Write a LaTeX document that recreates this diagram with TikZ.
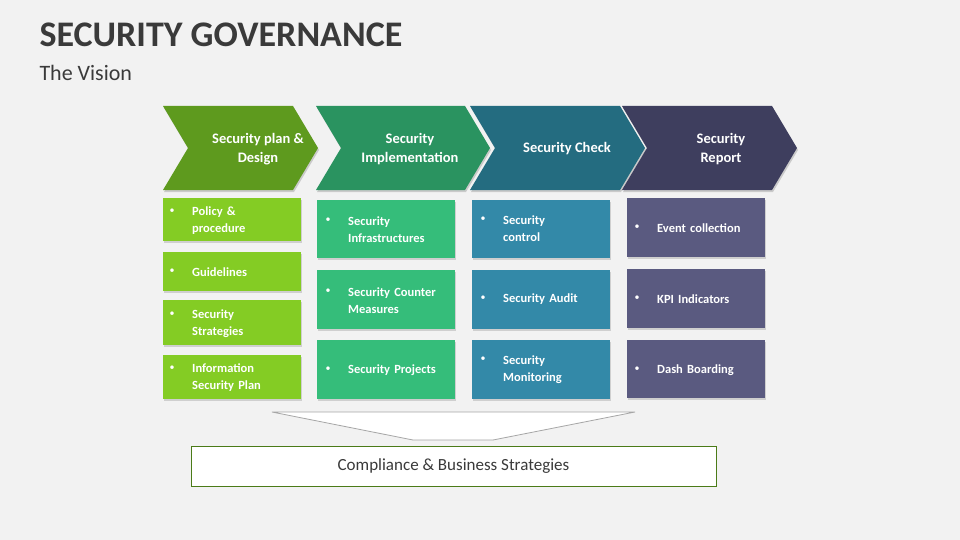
\documentclass[tikz,border=0pt]{standalone}
\usepackage{fontspec}
\setmainfont{Carlito}
\usetikzlibrary{shadows}
\definecolor{bg}{HTML}{F2F2F2}
\definecolor{cA}{HTML}{5E9A1E}
\definecolor{cB}{HTML}{2A9360}
\definecolor{cC}{HTML}{246C80}
\definecolor{cD}{HTML}{3E3E5E}
\definecolor{bA}{HTML}{84CC24}
\definecolor{bB}{HTML}{35BD7A}
\definecolor{bC}{HTML}{3389A8}
\definecolor{bD}{HTML}{5A5A80}
\definecolor{tit}{HTML}{3A3A3A}
\begin{document}
\begin{tikzpicture}[x=1pt,y=-1pt,
  chev/.style={drop shadow={opacity=0.35,shadow xshift=1pt,shadow yshift=-2pt}},
  cbox/.style={draw=none,drop shadow={opacity=0.3,shadow xshift=1pt,shadow yshift=-2pt}},
  btxt/.style={text=white,font=\bfseries\fontsize{12.5}{17}\selectfont,align=left,anchor=west,text width=110pt,inner sep=0pt},
  dot/.style={text=white,font=\fontsize{10}{10}\selectfont,anchor=center,inner sep=0pt},
  ctxt/.style={text=white,font=\bfseries\fontsize{14.5}{19}\selectfont,align=center}]
\fill[bg] (0,0) rectangle (960,540);
\useasboundingbox (0,0) rectangle (960,540);
\node[anchor=west,text=tit,font=\bfseries\fontsize{36}{40}\selectfont] (title) at (36,35) {SECURITY GOVERNANCE};
\node[anchor=west,text=tit,font=\fontsize{22}{26}\selectfont] (sub) at (36,73) {The Vision};
% chevrons
\foreach \x/\w/\c in {163/155/cA,316/174/cB,470/175/cC,622/175/cD}{
  \fill[\c,chev] (\x,106) -- (\x+\w-25,106) -- (\x+\w,148) -- (\x+\w-25,190) -- (\x,190) -- (\x+25,148) -- cycle;
}
\node[ctxt] (h1) at (258,149) {Security plan \&\\Design};
\node[ctxt] (h2) at (410,149) {Security\\Implementation};
\node[ctxt] (h3) at (567,149) {Security Check};
\node[ctxt] (h4) at (721,149) {Security\\Report};
% column 1
\foreach \n/\ya/\yb/\o/\t in {a1/198/241/8.5/{Policy \&\\procedure},a2/252/291/0/{Guidelines},a3/300/345/8.5/{Security\\Strategies},a4/355/399/8.5/{Information\\Security Plan}}{
  \fill[bA,cbox] (163,\ya) rectangle (301,\yb);
  \node[dot] at (172,{(\ya+\yb)/2-\o}) {•};
  \node[btxt] (\n) at (192,{(\ya+\yb)/2+1}) {\t};
}
% column 2
\foreach \n/\ya/\yb/\o/\t in {b1/200/258/8.5/{Security\\Infrastructures},b2/270/329/8.5/{Security Counter\\Measures},b3/340/399/0/{Security Projects}}{
  \fill[bB,cbox] (317,\ya) rectangle (455,\yb);
  \node[dot] at (328,{(\ya+\yb)/2-\o}) {•};
  \node[btxt] (\n) at (348,{(\ya+\yb)/2+1}) {\t};
}
% column 3
\foreach \n/\ya/\yb/\o/\t in {c1/200/258/9/{Security\\control},c2/270/329/0/{Security Audit},c3/340/399/9/{Security\\Monitoring}}{
  \fill[bC,cbox] (472,\ya) rectangle (610,\yb);
  \node[dot] at (483,{(\ya+\yb)/2-\o-1}) {•};
  \node[btxt] (\n) at (503,{(\ya+\yb)/2}) {\t};
}
% column 4
\foreach \n/\ya/\yb/\t in {d1/198/257/{Event collection},d2/269/328/{KPI Indicators},d3/340/398/{Dash Boarding}}{
  \fill[bD,cbox] (627,\ya) rectangle (765,\yb);
  \node[dot] at (637,{(\ya+\yb)/2}) {•};
  \node[btxt] (\n) at (657,{(\ya+\yb)/2+1}) {\t};
}
% funnel
\draw[gray!70,fill=white,line width=0.8pt] (272,412) -- (635,412) -- (493,440) -- (413,440) -- cycle;
\node[draw=cA!80!black,line width=1pt,fill=white,minimum width=525pt,minimum height=40pt,font=\fontsize{17}{20}\selectfont,text=tit] (comp) at (453.5,466) {Compliance \& Business Strategies};
\end{tikzpicture}
\end{document}
